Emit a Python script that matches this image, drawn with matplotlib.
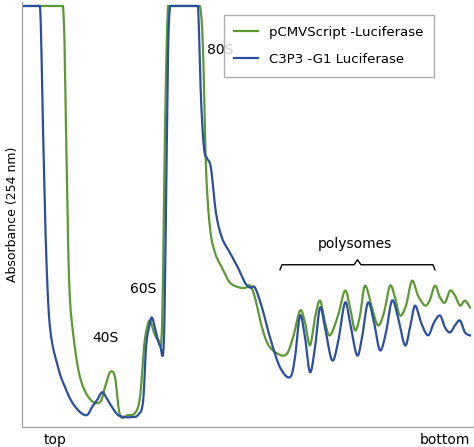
import matplotlib.pyplot as plt
import numpy as np

# positions along gradient (arbitrary units), absorbance (arbitrary units)
green_x = [25,40,55,63,66,69,73,80,90,100,105,110,115,120,128,135,140,144,147,150,154,158,162,165,168,172,
           180,195,200,203,206,210,215,222,230,240,246,250,255,262,270,285,293,300,305,310,315,320,325,330,
           338,345,350,355,360,365,372,378,384,390,395,400,406,412,418,425,430,435,440,445,450,455,460,465,470]
green_y = [423,423,423,423,300,150,95,50,28,25,40,55,50,12,12,14,30,80,100,107,95,88,100,300,423,423,
           423,423,423,380,260,200,175,160,145,140,140,142,130,100,80,72,90,117,105,82,110,127,105,92,
           112,137,120,97,112,142,120,102,115,142,130,112,122,147,132,122,128,142,130,125,137,132,122,127,120]
blue_x = [22,35,40,43,46,50,58,65,72,80,87,92,97,102,106,112,118,125,132,138,143,146,149,152,156,160,164,
          167,170,180,195,198,201,204,207,211,216,222,230,238,245,250,255,262,270,280,290,295,300,305,310,
          315,320,325,332,338,345,350,357,362,368,374,380,386,392,398,405,410,415,421,428,434,440,445,450,
          455,460,465,470]
blue_y = [423,423,423,300,180,100,60,40,25,15,12,20,27,35,30,20,12,10,10,12,25,80,100,110,95,82,90,
          300,423,423,423,423,330,280,270,260,215,190,175,160,145,140,140,120,90,60,50,70,112,90,55,
          80,120,100,67,85,125,105,72,90,125,105,77,95,127,110,82,100,122,105,92,105,112,100,95,102,107,95,92]

def smooth(x, y, n=8):
    # Catmull-Rom rendering of the read points
    x = np.asarray(x, float); y = np.asarray(y, float)
    P = np.column_stack([x, y])
    P = np.vstack([P[0], P, P[-1]])
    out = []
    t = np.linspace(0, 1, n, endpoint=False)[:, None]
    for i in range(1, len(P) - 2):
        p0, p1, p2, p3 = P[i-1], P[i], P[i+1], P[i+2]
        seg = 0.5*((2*p1) + (-p0+p2)*t + (2*p0-5*p1+4*p2-p3)*t**2 + (-p0+3*p1-3*p2+p3)*t**3)
        out.append(seg)
    out.append(P[-2][None, :])
    out = np.vstack(out)
    return out[:, 0], np.clip(out[:, 1], 0, 423)

fig = plt.figure(figsize=(4.74, 4.47), dpi=100)
ax = fig.add_axes([22/474, 20/447, 452/474, 425/447])
gx, gy = smooth(green_x, green_y)
bx, by = smooth(blue_x, blue_y)
ax.plot(gx, gy, color='#5b9a32', lw=1.6, label='pCMVScript -Luciferase')
ax.plot(bx, by, color='#2b4fa0', lw=1.6, label='C3P3 -G1 Luciferase')
ax.set_xlim(22, 474)
ax.set_ylim(0, 427)
ax.set_xticks([]); ax.set_yticks([])
for s in ['top', 'right']:
    ax.spines[s].set_visible(False)
for s in ['left', 'bottom']:
    ax.spines[s].set_color('#999999')
leg = ax.legend(loc='upper right', bbox_to_anchor=(0.925, 0.985), fontsize=9.5, frameon=True,
                fancybox=False, edgecolor='#999999', handlelength=1.8, labelspacing=1.1,
                borderpad=0.8)
ax.set_ylabel('Absorbance (254 nm)', fontsize=9)
ax.yaxis.labelpad = 2
fig.text(55/474, 7/447, 'top', fontsize=10, ha='center', va='center')
fig.text(445/474, 7/447, 'bottom', fontsize=10, ha='center', va='center')
ax.text(105, 85, '40S', fontsize=10, ha='center')
ax.text(143, 135, '60S', fontsize=10, ha='center')
ax.text(220, 375, '80S', fontsize=10, ha='center')
ax.text(355, 180, 'polysomes', fontsize=10, ha='center')
ax.plot([280, 282, 354, 357.5, 361, 433, 435], [158, 163, 163, 168, 163, 163, 158], color='black', lw=1)
fig.savefig('out.png', dpi=100)
